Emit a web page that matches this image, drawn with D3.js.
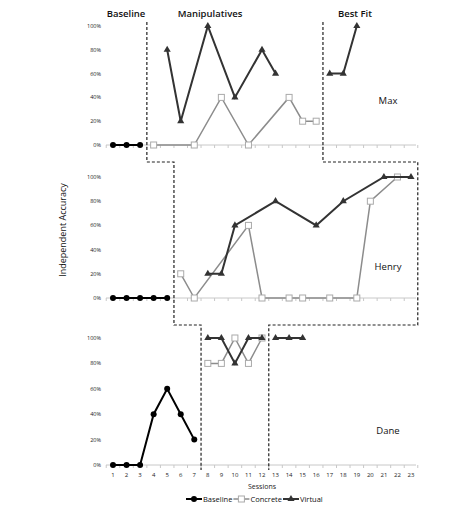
<!DOCTYPE html>
<html>
<head>
<meta charset="utf-8">
<script src="https://cdn.jsdelivr.net/npm/d3@7"></script>
<style>
  body { margin: 0; background: #fff; }
  text { font-family: "Open Sans", "Liberation Sans", sans-serif; }
</style>
</head>
<body>
<svg id="chart" width="474" height="510"></svg>
<script>
// Sessions 1..23
const sessions = d3.range(1, 24);
const yTicks = [0, 20, 40, 60, 80, 100];
const phaseLabels = ["Baseline", "Manipulatives", "Best Fit"];
const students = ["Max", "Henry", "Dane"];

// values per session (null = no session)
const maxBaseline = [0, 0, 0];
const maxConcrete = [null, null, null, 0, null, null, 0, null, 40, null, 0, null, null, 40, 20, 20];
const maxVirtual = [null, null, null, null, 80, 20, null, 100, null, 40, null, 80, 60, null, null, null, 60, 60, 100];

const henryBaseline = [0, 0, 0, 0, 0];
const henryConcrete = [null, null, null, null, null, 20, 0, null, null, null, 60, 0, null, 0, 0, null, 0, null, 0, 80, null, 100];
const henryVirtual = [null, null, null, null, null, null, null, 20, 20, 60, null, null, 80, null, null, 60, null, 80, null, null, 100, null, 100];

const daneBaseline = [0, 0, 0, 40, 60, 40, 20];
const daneConcrete = [null, null, null, null, null, null, null, 80, 80, 100, 80, 100];
const daneVirtual = [null, null, null, null, null, null, null, 100, 100, 80, 100, 100, 100, 100, 100];

// phase change points (session boundaries) per panel
const phaseChanges = [[3.5, 16.5], [5.5, 23.5], [7.5, 12.5]];

const svg = d3.select("#chart");
const x = d3.scaleLinear().domain([1, 23]).range([113, 411]);

const panels = [
  { name: "Max", top: 26, bottom: 145, series: [maxBaseline, maxConcrete, maxVirtual], labelY: 104 },
  { name: "Henry", top: 177, bottom: 298, series: [henryBaseline, henryConcrete, henryVirtual], labelY: 270 },
  { name: "Dane", top: 338, bottom: 465, series: [daneBaseline, daneConcrete, daneVirtual], labelY: 434 }
];

const styles = [
  { color: "#000", width: 2, marker: "circle" },
  { color: "#8c8c8c", width: 1.5, marker: "square" },
  { color: "#333", width: 2, marker: "triangle" }
];

function drawMarker(g, type, cx, cy) {
  if (type === "circle") {
    g.append("circle").attr("cx", cx).attr("cy", cy).attr("r", 3).attr("fill", "#000");
  } else if (type === "square") {
    g.append("rect").attr("x", cx - 3).attr("y", cy - 3).attr("width", 6).attr("height", 6)
      .attr("fill", "#fff").attr("stroke", "#aaa").attr("stroke-width", 1);
  } else {
    g.append("path").attr("d", d3.symbol(d3.symbolTriangle, 22)()).attr("transform", `translate(${cx},${cy})`)
      .attr("fill", "#333");
  }
}

panels.forEach((p, pi) => {
  const y = d3.scaleLinear().domain([0, 100]).range([p.bottom, p.top]);
  const g = svg.append("g");

  // y tick labels
  g.selectAll("text.yt").data(yTicks).enter().append("text")
    .attr("x", 101).attr("y", d => y(d) + 2).attr("text-anchor", "end")
    .attr("font-size", 5.5).attr("fill", "#222").text(d => d + "%");

  // x axis line with ticks
  g.append("line").attr("x1", 106).attr("x2", 416).attr("y1", y(0)).attr("y2", y(0))
    .attr("stroke", "#c8c8c8").attr("stroke-width", 1);
  g.selectAll("line.xt").data(d3.range(0.5, 24, 1)).enter().append("line")
    .attr("x1", d => x(d)).attr("x2", d => x(d)).attr("y1", y(0)).attr("y2", y(0) + 3)
    .attr("stroke", "#c8c8c8");

  const phaseOf = s => phaseChanges[pi].filter(b => s > b).length;
  p.series.forEach((vals, si) => {
    const pts = vals.map((v, i) => [sessions[i], v]).filter(d => d[1] !== null);
    const st = styles[si];
    // lines are broken at phase change lines
    d3.groups(pts, d => phaseOf(d[0])).forEach(([, seg]) => {
      g.append("path").datum(seg)
        .attr("d", d3.line().x(d => x(d[0])).y(d => y(d[1])))
        .attr("fill", "none").attr("stroke", st.color).attr("stroke-width", st.width);
    });
    pts.forEach(d => drawMarker(g, st.marker, x(d[0]), y(d[1])));
  });

  g.append("text").attr("x", 388).attr("y", p.labelY).attr("text-anchor", "middle")
    .attr("font-size", 9.5).attr("fill", "#111").text(p.name);
});

// dashed phase-change lines (steps between panels)
const yBreak1 = 162, yBreak2 = 325;
const dash = (pts) => svg.append("path")
  .attr("d", d3.line()(pts)).attr("fill", "none")
  .attr("stroke", "#222").attr("stroke-width", 1.2).attr("stroke-dasharray", "3,2");
const pc = phaseChanges;
dash([[x(pc[0][0]), 22], [x(pc[0][0]), yBreak1], [x(pc[1][0]), yBreak1], [x(pc[1][0]), yBreak2], [x(pc[2][0]), yBreak2], [x(pc[2][0]), 470]]);
dash([[x(pc[0][1]), 22], [x(pc[0][1]), yBreak1], [x(pc[1][1]), yBreak1], [x(pc[1][1]), yBreak2], [x(pc[2][1]), yBreak2], [x(pc[2][1]), 470]]);

// phase labels
[[126, 0], [210, 1], [355, 2]].forEach(([lx, i]) => {
  svg.append("text").attr("x", lx).attr("y", 17).attr("text-anchor", "middle")
    .attr("font-size", 9.5).attr("font-weight", 600).attr("fill", "#111").text(phaseLabels[i]);
});

// x tick labels
svg.selectAll("text.xl").data(sessions).enter().append("text")
  .attr("x", d => x(d)).attr("y", 477).attr("text-anchor", "middle")
  .attr("font-size", 6).attr("fill", "#222").text(d => d);
svg.append("text").attr("x", 262).attr("y", 489).attr("text-anchor", "middle")
  .attr("font-size", 7).attr("fill", "#222").text("Sessions");

// y axis title
svg.append("text").attr("transform", "translate(66,230) rotate(-90)").attr("text-anchor", "middle")
  .attr("font-size", 9).attr("fill", "#111").text("Independent Accuracy");

// legend
const legend = [["Baseline", 0], ["Concrete", 1], ["Virtual", 2]];
let lx = 186;
legend.forEach(([name, si]) => {
  const st = styles[si];
  const lg = svg.append("g");
  lg.append("line").attr("x1", lx).attr("x2", lx + 16).attr("y1", 499).attr("y2", 499)
    .attr("stroke", st.color).attr("stroke-width", st.width);
  drawMarker(lg, st.marker, lx + 8, 499);
  const t = lg.append("text").attr("x", lx + 17).attr("y", 502).attr("font-size", 7.5)
    .attr("fill", "#111").text(name);
  lx += 17 + t.node().getComputedTextLength() + 1;
});
</script>
</body>
</html>
